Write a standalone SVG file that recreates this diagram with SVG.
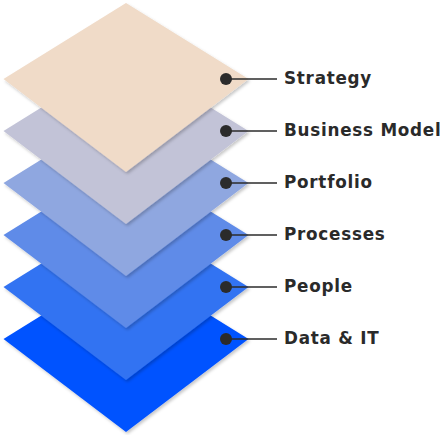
<svg xmlns="http://www.w3.org/2000/svg" width="447" height="435" viewBox="0 0 447 435">
  <defs>
    <filter id="sh" x="-10%" y="-10%" width="120%" height="125%">
      <feDropShadow dx="1.5" dy="2" stdDeviation="1.5" flood-color="#000" flood-opacity="0.22"/>
    </filter>
    <polygon id="plate" points="126,3 248.5,79 126,172 3.5,79"/>
  </defs>
  <style>
    .layer use { filter: url(#sh); }
    .lbl { font-family: "DejaVu Sans", sans-serif; font-weight: bold; font-size: 16.8px; letter-spacing: 0.75px; fill: #2a2a2a; }
    .dot { fill: #2b2b2b; }
    .ln { stroke: #2b2b2b; stroke-width: 1.6; }
  </style>
  <rect width="447" height="435" fill="#ffffff"/>
  <g id="layers" class="layer">
    <g id="layer-data-it"><use href="#plate" transform="translate(0,260)" fill="#0052FF"/></g>
    <g id="layer-people"><use href="#plate" transform="translate(0,208)" fill="#3373F2"/></g>
    <g id="layer-processes"><use href="#plate" transform="translate(0,156)" fill="#5F8BE8"/></g>
    <g id="layer-portfolio"><use href="#plate" transform="translate(0,104)" fill="#8FA7E0"/></g>
    <g id="layer-business-model"><use href="#plate" transform="translate(0,52)" fill="#C2C3D7"/></g>
    <g id="layer-strategy"><use href="#plate" fill="#F0DBC8"/></g>
  </g>
  <g id="connectors">
    <line class="ln" x1="226" y1="79" x2="277" y2="79"/>
    <line class="ln" x1="226" y1="131" x2="277" y2="131"/>
    <line class="ln" x1="226" y1="183" x2="277" y2="183"/>
    <line class="ln" x1="226" y1="235" x2="277" y2="235"/>
    <line class="ln" x1="226" y1="287" x2="277" y2="287"/>
    <line class="ln" x1="226" y1="339" x2="277" y2="339"/>
    <circle class="dot" cx="226" cy="79" r="6"/>
    <circle class="dot" cx="226" cy="131" r="6"/>
    <circle class="dot" cx="226" cy="183" r="6"/>
    <circle class="dot" cx="226" cy="235" r="6"/>
    <circle class="dot" cx="226" cy="287" r="6"/>
    <circle class="dot" cx="226" cy="339" r="6"/>
  </g>
  <g id="labels">
    <text class="lbl" x="284" y="84">Strategy</text>
    <text class="lbl" x="284" y="136">Business Model</text>
    <text class="lbl" x="284" y="188">Portfolio</text>
    <text class="lbl" x="284" y="240">Processes</text>
    <text class="lbl" x="284" y="292">People</text>
    <text class="lbl" x="284" y="344">Data &amp; IT</text>
  </g>
</svg>
